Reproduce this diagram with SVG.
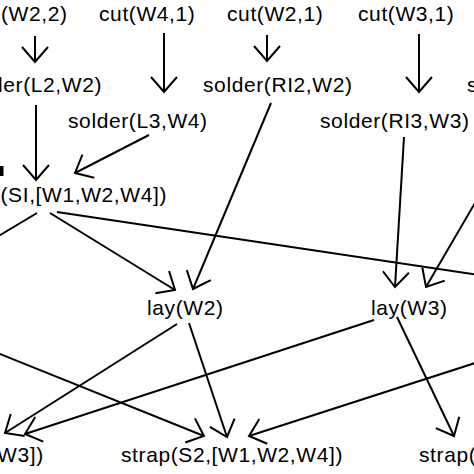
<svg xmlns="http://www.w3.org/2000/svg" width="474" height="474" viewBox="0 0 474 474">
<style>
.t{font-family:"Liberation Sans",Arial,sans-serif;font-size:21px;letter-spacing:0.6px;fill:#000}
.e{stroke:#000;stroke-width:2;fill:none;marker-end:url(#a)}
.p{stroke:#000;stroke-width:2;fill:none}
</style>
<defs>
<marker id="a" markerUnits="userSpaceOnUse" viewBox="-20 -20 40 40" markerWidth="40" markerHeight="40" refX="0" refY="0" orient="auto" overflow="visible">
<path d="M-15,-13 L0,0 L-15,13" fill="none" stroke="#000" stroke-width="2"/>
</marker>
</defs>
<rect width="474" height="474" fill="#fff"/>
<g id="connectors">
<line class="e" x1="35" y1="36" x2="35" y2="62"/>
<line class="e" x1="164" y1="33" x2="164" y2="92"/>
<line class="e" x1="36" y1="105" x2="36" y2="180"/>
<line class="e" x1="149" y1="135" x2="75" y2="173"/>
<line class="e" x1="267" y1="35" x2="267" y2="61"/>
<line class="e" x1="419" y1="34" x2="419" y2="92"/>
<line class="e" x1="271" y1="103" x2="193" y2="289"/>
<line class="e" x1="404" y1="137" x2="395" y2="287"/>
<line class="e" x1="500" y1="160" x2="426" y2="287"/>
<line class="e" x1="50" y1="213" x2="175" y2="290"/>
<line class="p" x1="57" y1="212" x2="520" y2="281"/>
<line class="p" x1="37" y1="213" x2="-10" y2="241"/>
<line class="e" x1="177" y1="324" x2="5" y2="433"/>
<line class="e" x1="189" y1="323" x2="227" y2="437"/>
<line class="e" x1="-20" y1="346" x2="204" y2="436"/>
<line class="e" x1="374" y1="320" x2="25" y2="434"/>
<line class="e" x1="397" y1="317" x2="454" y2="436"/>
<line class="e" x1="500" y1="355" x2="249" y2="436"/>
<rect x="0" y="166" width="3.5" height="10" fill="#000"/>
</g>
<g id="cut_W2_2"><text class="t" x="1" y="21">(W2,2)</text></g>
<g id="cut_W4_1"><text class="t" x="99" y="21">cut(W4,1)</text></g>
<g id="cut_W2_1"><text class="t" x="227" y="21">cut(W2,1)</text></g>
<g id="cut_W3_1"><text class="t" x="358" y="21">cut(W3,1)</text></g>
<g id="solder_L2_W2"><text class="t" x="-9" y="92">der(L2,W2)</text></g>
<g id="solder_RI2_W2"><text class="t" x="203" y="92">solder(RI2,W2)</text></g>
<g id="solder_right"><text class="t" x="467" y="92">s</text></g>
<g id="solder_L3_W4"><text class="t" x="68" y="128">solder(L3,W4)</text></g>
<g id="solder_RI3_W3"><text class="t" x="320" y="128">solder(RI3,W3)</text></g>
<g id="strap_SI"><text class="t" x="0.5" y="202">(SI,[W1,W2,W4])</text></g>
<g id="lay_W2"><text class="t" x="147" y="315">lay(W2)</text></g>
<g id="lay_W3"><text class="t" x="371" y="315">lay(W3)</text></g>
<g id="strap_W3"><text class="t" x="-3" y="462">W3])</text></g>
<g id="strap_S2"><text class="t" x="121" y="462">strap(S2,[W1,W2,W4])</text></g>
<g id="strap_right"><text class="t" x="419" y="462">strap(</text></g>
</svg>
